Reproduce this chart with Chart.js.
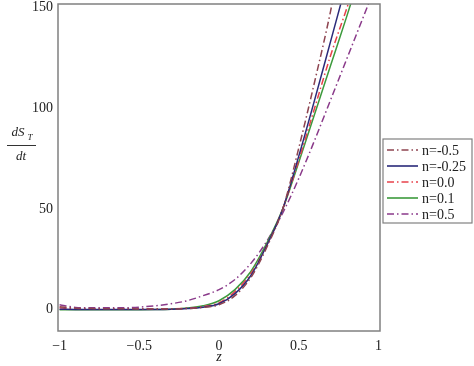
<!DOCTYPE html>
<html>
<head>
<meta charset="utf-8">
<script src="https://cdn.jsdelivr.net/npm/chart.js@4"></script>
<style>
  html, body { margin: 0; padding: 0; background: #fff; }
  #wrap { width: 474px; height: 366px; }
</style>
</head>
<body>
<div id="wrap"><canvas id="chart"></canvas></div>
<script>
    // values
    const zValues = [-1, -0.9, -0.8, -0.6, -0.4, -0.3, -0.2, -0.1, 0, 0.1, 0.2, 0.3, 0.4, 0.5, 0.6, 0.7, 0.8, 0.9, 1.0];
    const nLabels = ['n=-0.5', 'n=-0.25', 'n=0.0', 'n=0.1', 'n=0.5'];
    const nMinus05 = [1.5, 0.8, 0.6, 0.5, 0.4, 0.4, 0.6, 1.2, 2.5, 7, 16, 31, 50, 80, 113, 148, 190, 235, 280];
    const nMinus025 = [0.3, 0.2, 0.2, 0.2, 0.2, 0.3, 0.6, 1.3, 3, 8, 17, 32, 50, 76, 104, 133, 162, 192, 222];
    const nZero = [1, 0.5, 0.4, 0.4, 0.4, 0.5, 0.8, 1.6, 3.5, 9, 18, 32, 50, 74, 100, 126, 149, 173, 197];
    const nPoint1 = [0, 0, 0, 0, 0.1, 0.3, 0.9, 2, 4.5, 10, 19, 33, 50, 73, 97, 121, 145, 170, 195];
    const nPoint5 = [2.5, 1.2, 1, 1, 2, 3, 4.5, 7, 10, 15, 23, 34, 48, 65, 84, 104, 124, 144, 164];
    const xTicks = [-1, -0.5, 0, 0.5, 1];
    const yTicks = [0, 50, 100, 150];

    const seriesValues = [nMinus05, nMinus025, nZero, nPoint1, nPoint5];
    const colors = ['#8e4450', '#2a2a7a', '#e8414b', '#3c9a3c', '#8a3a8a'];
    const dashes = [[7, 3, 1.5, 3], [], [7, 3, 1.5, 3], [], [7, 3, 1.5, 3]];

    const serif = '"Liberation Serif", "DejaVu Serif", serif';

    // box around the plot, axis titles and legend
    const framePlugin = {
        id: 'frame',
        afterDraw(chart) {
            const ctx = chart.ctx;
            const a = chart.chartArea;
            ctx.save();
            ctx.strokeStyle = '#808080';
            ctx.lineWidth = 1.5;
            ctx.setLineDash([]);
            ctx.strokeRect(a.left, a.top, a.right - a.left, a.bottom - a.top);

            // y axis title as fraction
            ctx.fillStyle = '#222';
            ctx.textAlign = 'center';
            ctx.textBaseline = 'alphabetic';
            ctx.font = 'italic 13px ' + serif;
            ctx.fillText('dS', 18, 136);
            ctx.font = 'italic 9px ' + serif;
            ctx.fillText('T', 30, 140);
            ctx.strokeStyle = '#333';
            ctx.lineWidth = 1;
            ctx.beginPath();
            ctx.moveTo(7, 145.5);
            ctx.lineTo(36, 145.5);
            ctx.stroke();
            ctx.font = 'italic 13px ' + serif;
            ctx.fillText('dt', 21, 160);

            // x axis title
            ctx.font = 'italic 14px ' + serif;
            ctx.fillText('z', chart.scales.x.getPixelForValue(0), 361);

            // legend
            const lx = 383, ly = 139, lw = 89, lh = 84;
            ctx.strokeStyle = '#808080';
            ctx.lineWidth = 1.2;
            ctx.strokeRect(lx, ly, lw, lh);
            ctx.font = '14px ' + serif;
            ctx.textAlign = 'left';
            ctx.textBaseline = 'middle';
            chart.data.datasets.forEach((ds, i) => {
                const y = 150 + i * 16;
                ctx.strokeStyle = ds.borderColor;
                ctx.lineWidth = 1.6;
                ctx.setLineDash(ds.borderDash);
                ctx.beginPath();
                ctx.moveTo(387, y);
                ctx.lineTo(418, y);
                ctx.stroke();
                ctx.setLineDash([]);
                ctx.fillStyle = '#222';
                ctx.fillText(ds.label, 422, y + 1);
            });
            ctx.restore();
        }
    };

    const datasets = seriesValues.map((vals, i) => ({
        label: nLabels[i],
        data: vals.map((v, k) => ({ x: zValues[k], y: v })),
        borderColor: colors[i],
        borderDash: dashes[i],
        borderWidth: 1.5,
        pointRadius: 0,
        showLine: true,
        fill: false,
        cubicInterpolationMode: 'monotone'
    }));

    const fmt = v => String(v).replace('-', '\u2212');

    new Chart(document.getElementById('chart'), {
        type: 'scatter',
        data: { datasets: datasets },
        options: {
            responsive: true,
            maintainAspectRatio: false,
            animation: false,
            layout: { padding: { left: 0, top: 4, right: 94, bottom: 0 } },
            plugins: {
                legend: { display: false },
                tooltip: { enabled: false }
            },
            scales: {
                x: {
                    type: 'linear',
                    min: -1.01,
                    max: 1.01,
                    grid: { display: false, drawTicks: false },
                    border: { display: false },
                    afterBuildTicks: s => { s.ticks = xTicks.map(v => ({ value: v })); },
                    afterFit: s => { s.height = 35; s.paddingLeft = 0; s.paddingRight = 0; },
                    ticks: {
                        padding: 7,
                        color: '#222',
                        font: { family: serif, size: 14 },
                        maxRotation: 0,
                        callback: v => fmt(v)
                    }
                },
                y: {
                    type: 'linear',
                    min: -10.5,
                    max: 151.5,
                    grid: { display: false, drawTicks: false },
                    border: { display: false },
                    afterBuildTicks: s => { s.ticks = yTicks.map(v => ({ value: v })); },
                    afterFit: s => { s.width = 58; s.paddingTop = 0; s.paddingBottom = 0; },
                    ticks: {
                        padding: 5,
                        color: '#222',
                        font: { family: serif, size: 14 },
                        callback: v => fmt(v)
                    }
                }
            }
        },
        plugins: [framePlugin]
    });
</script>
</body>
</html>
